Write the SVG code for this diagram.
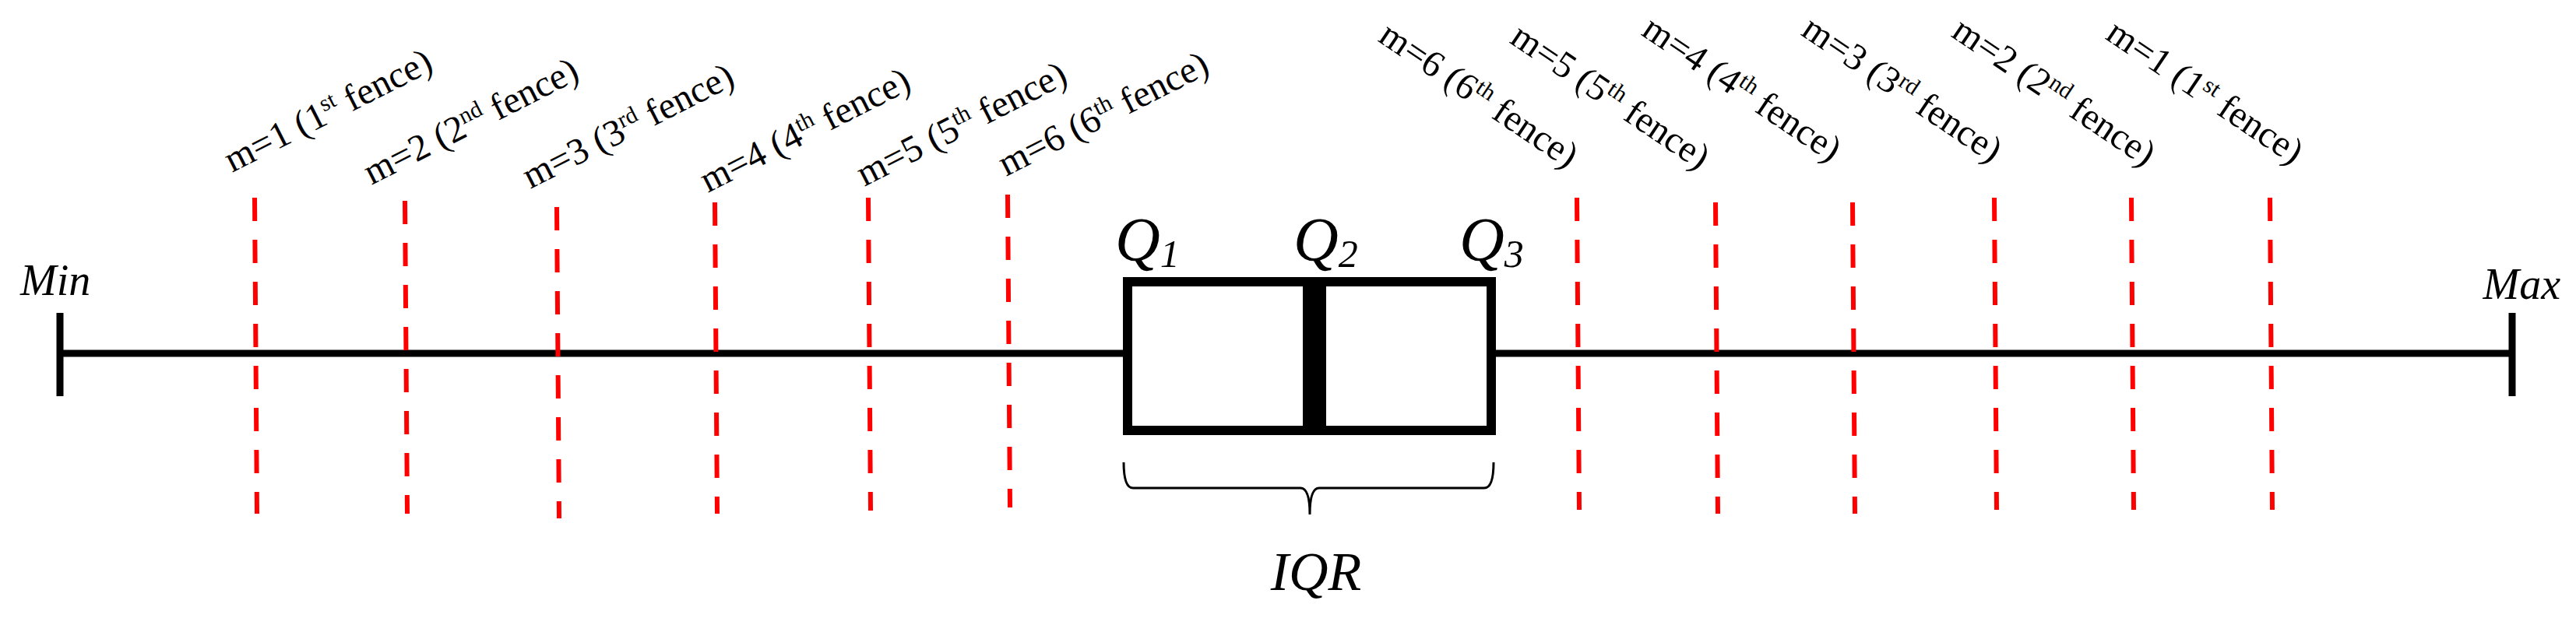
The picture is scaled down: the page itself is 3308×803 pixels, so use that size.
<svg xmlns="http://www.w3.org/2000/svg" width="3308" height="803" viewBox="0 0 3308 803">
<style>
.lbl{font-family:"Liberation Serif",serif;font-size:48px;fill:#000}
.it{font-family:"Liberation Serif",serif;font-style:italic;fill:#000}
.sup{font-size:30px}
.fence{stroke:#ff0000;stroke-width:6;stroke-dasharray:30 24;fill:none}
</style>
<rect width="3308" height="803" fill="#fff"/>
<g id="connectors">
<line x1="77" y1="454" x2="1448" y2="454" stroke="#000" stroke-width="9"/>
<line x1="1915" y1="454" x2="3226" y2="454" stroke="#000" stroke-width="9"/>
</g>
<g id="min"><line x1="77" y1="402" x2="77" y2="509" stroke="#000" stroke-width="9"/><text class="it" x="26" y="379" font-size="56">Min</text></g>
<g id="max"><line x1="3226" y1="402" x2="3226" y2="509" stroke="#000" stroke-width="9"/><text class="it" x="3288" y="384" font-size="56" text-anchor="end">Max</text></g>
<g id="box">
<rect x="1448" y="362" width="467" height="191" fill="#fff" stroke="#000" stroke-width="12"/>
<rect x="1673" y="356" width="30" height="203" fill="#000"/>
<text class="it" x="1432" y="335" font-size="80">Q<tspan font-size="50" dy="8">1</tspan></text>
<text class="it" x="1661" y="335" font-size="80">Q<tspan font-size="50" dy="8">2</tspan></text>
<text class="it" x="1874" y="335" font-size="80">Q<tspan font-size="50" dy="8">3</tspan></text>
</g>
<g id="iqr">
<path d="M1443,594 Q1443,627 1455,627 L1670,627 Q1682,627 1682,661 Q1682,627 1694,627 L1906,627 Q1918,627 1918,594" fill="none" stroke="#000" stroke-width="3"/>
<text class="it" x="1690" y="758" font-size="70" text-anchor="middle">IQR</text>
</g>
<g id="fences-left">
<line class="fence" x1="327" y1="254" x2="330" y2="660"/>
<line class="fence" x1="520" y1="258" x2="523" y2="660"/>
<line class="fence" x1="715" y1="266" x2="718" y2="666"/>
<line class="fence" x1="918" y1="260" x2="921" y2="660"/>
<line class="fence" x1="1115" y1="254" x2="1118" y2="656"/>
<line class="fence" x1="1294" y1="250" x2="1297" y2="652"/>
<text class="lbl" transform="translate(298,222) rotate(-27)">m=1 (1<tspan class="sup" baseline-shift="super">st</tspan> fence)</text>
<text class="lbl" transform="translate(477,238) rotate(-27)">m=2 (2<tspan class="sup" baseline-shift="super">nd</tspan> fence)</text>
<text class="lbl" transform="translate(681,243) rotate(-27)">m=3 (3<tspan class="sup" baseline-shift="super">rd</tspan> fence)</text>
<text class="lbl" transform="translate(909,248) rotate(-27)">m=4 (4<tspan class="sup" baseline-shift="super">th</tspan> fence)</text>
<text class="lbl" transform="translate(1110,240) rotate(-27)">m=5 (5<tspan class="sup" baseline-shift="super">th</tspan> fence)</text>
<text class="lbl" transform="translate(1292,227) rotate(-27)">m=6 (6<tspan class="sup" baseline-shift="super">th</tspan> fence)</text>
</g>
<g id="fences-right">
<line class="fence" x1="2025" y1="254" x2="2028" y2="655"/>
<line class="fence" x1="2203" y1="260" x2="2206" y2="660"/>
<line class="fence" x1="2379" y1="260" x2="2382" y2="660"/>
<line class="fence" x1="2561" y1="254" x2="2564" y2="655"/>
<line class="fence" x1="2737" y1="254" x2="2740" y2="655"/>
<line class="fence" x1="2915" y1="254" x2="2918" y2="655"/>
<text class="lbl" transform="translate(1768,52) rotate(34)">m=6 (6<tspan class="sup" baseline-shift="super">th</tspan> fence)</text>
<text class="lbl" transform="translate(1937,54) rotate(34)">m=5 (5<tspan class="sup" baseline-shift="super">th</tspan> fence)</text>
<text class="lbl" transform="translate(2106,44) rotate(34)">m=4 (4<tspan class="sup" baseline-shift="super">th</tspan> fence)</text>
<text class="lbl" transform="translate(2311,44) rotate(34)">m=3 (3<tspan class="sup" baseline-shift="super">rd</tspan> fence)</text>
<text class="lbl" transform="translate(2504,46) rotate(34)">m=2 (2<tspan class="sup" baseline-shift="super">nd</tspan> fence)</text>
<text class="lbl" transform="translate(2702,49) rotate(34)">m=1 (1<tspan class="sup" baseline-shift="super">st</tspan> fence)</text>
</g>
</svg>
